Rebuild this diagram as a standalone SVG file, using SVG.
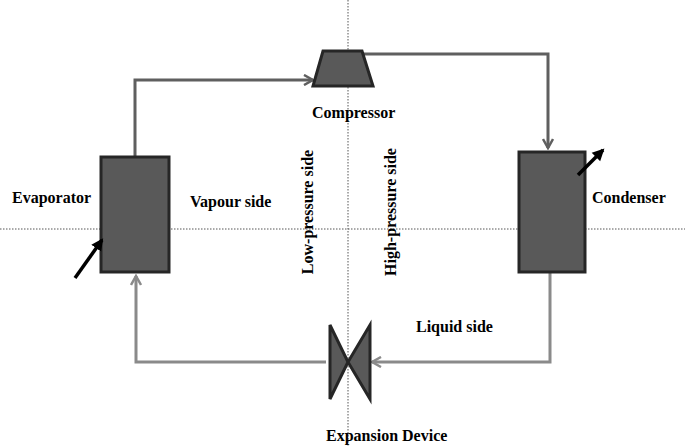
<svg xmlns="http://www.w3.org/2000/svg" width="685" height="446" viewBox="0 0 685 446">
<style>
text{font-family:"Liberation Serif",serif;font-weight:bold;font-size:16px;fill:#000}
.dk{fill:none;stroke:#5f5f5f;stroke-width:3}
.lt{fill:none;stroke:#8a8a8a;stroke-width:3}
.shape{fill:#595959;stroke:#262626;stroke-width:3}
.guide{stroke:#555;stroke-width:1;stroke-dasharray:1.5 1.5}
</style>
<defs>
<marker id="ad" markerWidth="12" markerHeight="12" refX="10" refY="6" orient="auto" markerUnits="userSpaceOnUse"><path d="M1,1 L10,6 L1,11" fill="none" stroke="#5f5f5f" stroke-width="2.5"/></marker>
<marker id="al" markerWidth="12" markerHeight="12" refX="10" refY="6" orient="auto" markerUnits="userSpaceOnUse"><path d="M1,1 L10,6 L1,11" fill="none" stroke="#8a8a8a" stroke-width="2.5"/></marker>
<marker id="ab" markerWidth="14" markerHeight="14" refX="10" refY="7" orient="auto" markerUnits="userSpaceOnUse"><path d="M0,1 L12,7 L0,13 Z" fill="#000"/></marker>
</defs>
<rect width="685" height="446" fill="#fff"/>
<line class="guide" x1="348" y1="0" x2="348" y2="446"/>
<line class="guide" x1="0" y1="229" x2="685" y2="229"/>
<g id="connectors">
<path class="dk" d="M135,157 L135,80 L313,80" marker-end="url(#ad)"/>
<path class="dk" d="M362,54 L548,54 L548,148" marker-end="url(#ad)"/>
<path class="lt" d="M550,272 L550,362 L372,362" marker-end="url(#al)"/>
<path class="lt" d="M326,362 L136,362 L136,276" marker-end="url(#al)"/>
</g>
<g id="compressor"><path class="shape" d="M323,51 L362,51 L373,86 L313,86 Z"/><text x="312" y="118">Compressor</text></g>
<g id="evaporator"><rect class="shape" x="101" y="157" width="68" height="115"/><line x1="75" y1="278" x2="102" y2="240" stroke="#000" stroke-width="3.5" marker-end="url(#ab)"/><text x="12" y="203">Evaporator</text></g>
<g id="condenser"><rect class="shape" x="519" y="152" width="66" height="120"/><line x1="578" y1="175" x2="603" y2="150" stroke="#000" stroke-width="3.5" marker-end="url(#ab)"/><text x="592" y="203">Condenser</text></g>
<g id="expansion"><path class="shape" d="M330,325 L348,362 L330,399 Z M370,325 L348,362 L370,399 Z"/><text x="326" y="441">Expansion Device</text></g>
<text x="190" y="207">Vapour side</text>
<text x="416" y="332">Liquid side</text>
<text transform="translate(313,212) rotate(-90)" text-anchor="middle">Low-pressure side</text>
<text transform="translate(396,212) rotate(-90)" text-anchor="middle">High-pressure side</text>
</svg>
